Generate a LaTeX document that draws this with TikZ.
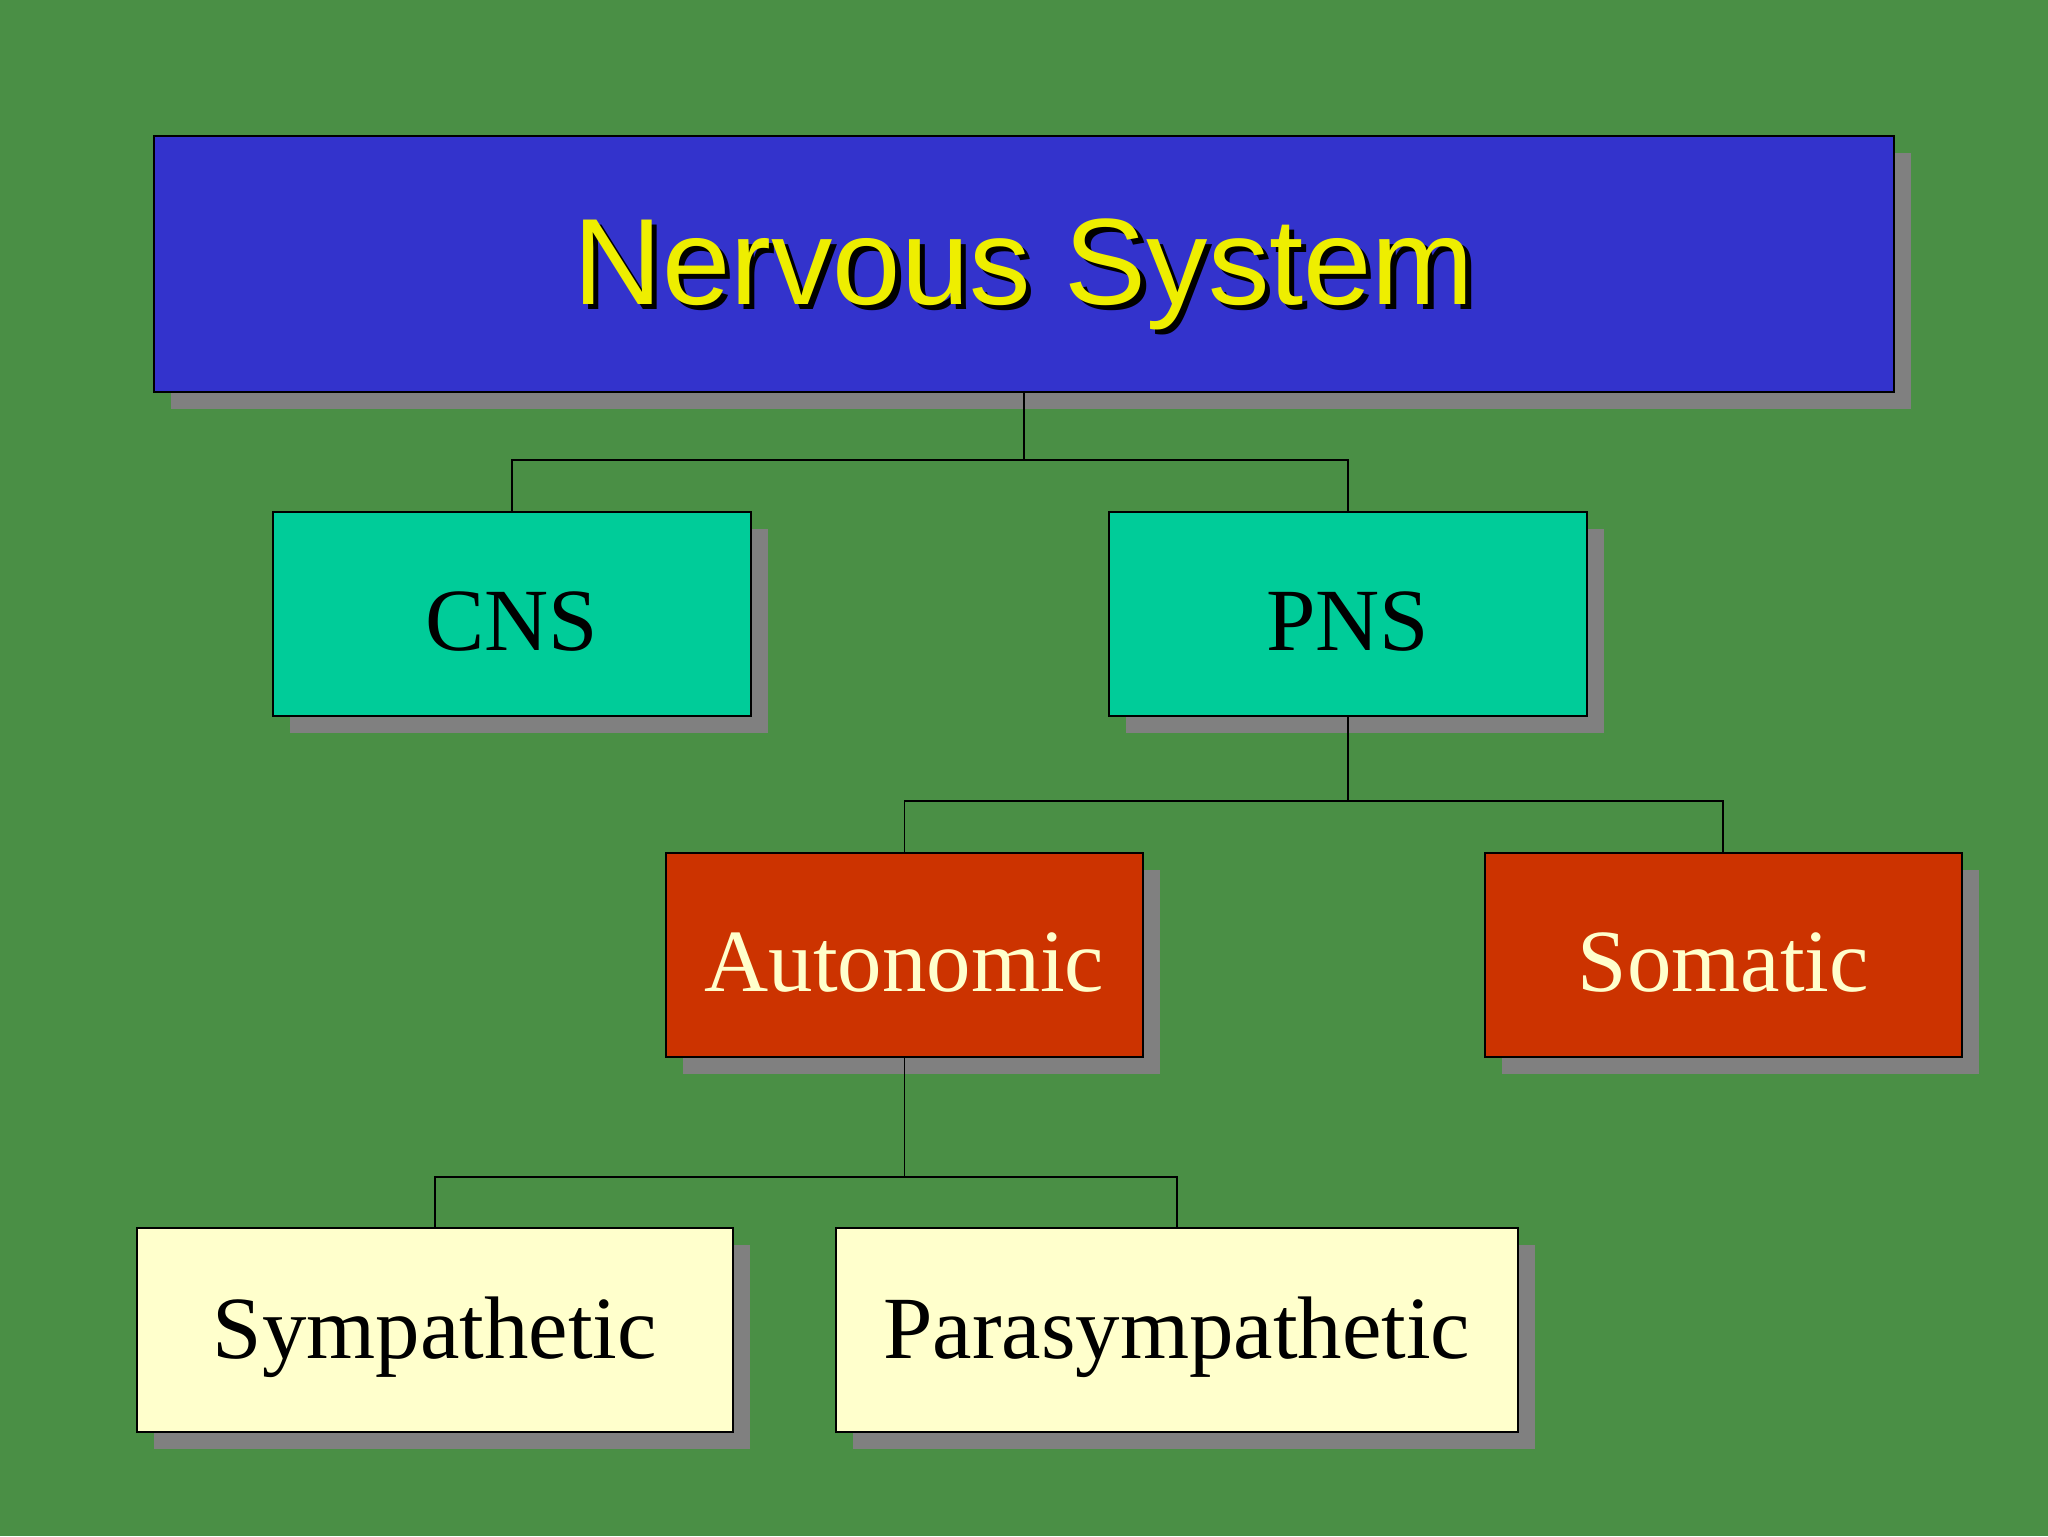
\documentclass[tikz,border=0pt]{standalone}
\usepackage{fontspec}
\setmainfont{Liberation Serif}
\newfontfamily\hsans{Liberation Sans}
\definecolor{bg}{HTML}{4A8F45}
\definecolor{nsblue}{HTML}{3333CC}
\definecolor{teal}{HTML}{00CC99}
\definecolor{rust}{HTML}{CC3300}
\definecolor{cream}{HTML}{FFFFCC}
\definecolor{shd}{HTML}{808080}
\definecolor{ytext}{HTML}{EEEE00}
\begin{document}
\begin{tikzpicture}[x=1pt,y=-1pt,
  boxs/.style={draw=black,line width=1.5pt,inner sep=0pt},
  conn/.style={draw=black,line width=1.5pt},
  lbl/.style={font=\fontsize{68}{76}\selectfont,yshift=-6pt}]
\useasboundingbox[fill=bg] (0,0) rectangle (1568,1176);
\newcommand\mybox[6]{% name, x1,y1,x2,y2, fill
  \fill[shd] (#2+13,#3+13) rectangle (#4+13,#5+13);
  \path[boxs,fill=#6] (#2,#3) rectangle (#4,#5);
  \coordinate (#1) at ({(#2+#4)/2},{(#3+#5)/2});
  \coordinate (#1t) at ({(#2+#4)/2},#3);
  \coordinate (#1b) at ({(#2+#4)/2},#5);
}
\mybox{ns}{118}{104}{1450}{300}{nsblue}
\mybox{cns}{209}{392}{575}{548}{teal}
\mybox{pns}{849}{392}{1215}{548}{teal}
\mybox{aut}{510}{653}{875}{809}{rust}
\mybox{som}{1137}{653}{1502}{809}{rust}
\mybox{sym}{105}{940}{561}{1096}{cream}
\mybox{par}{640}{940}{1162}{1096}{cream}
\node (nslabel) at ([yshift=-10pt]ns) {\hsans\fontsize{94}{104}\selectfont
  \rlap{\kern4pt\raisebox{-4pt}{\color{black}Nervous System}}{\color{ytext}Nervous System}};
\node[lbl] (cnsl) at (cns) {CNS};
\node[lbl] (pnsl) at (pns) {PNS};
\node[lbl,text=cream] (autl) at (aut) {Autonomic};
\node[lbl,text=cream] (soml) at (som) {Somatic};
\node[lbl] (syml) at (sym) {Sympathetic};
\node[lbl] (parl) at (par) {Parasympathetic};
\draw[conn] (nsb) -- ++(0,52) -| (cnst);
\draw[conn] (nsb) -- ++(0,52) -| (pnst);
\draw[conn] (pnsb) -- ++(0,65) -| (autt);
\draw[conn] (pnsb) -- ++(0,65) -| (somt);
\draw[conn] (autb) -- ++(0,92) -| (symt);
\draw[conn] (autb) -- ++(0,92) -| (part);
\end{tikzpicture}
\end{document}
